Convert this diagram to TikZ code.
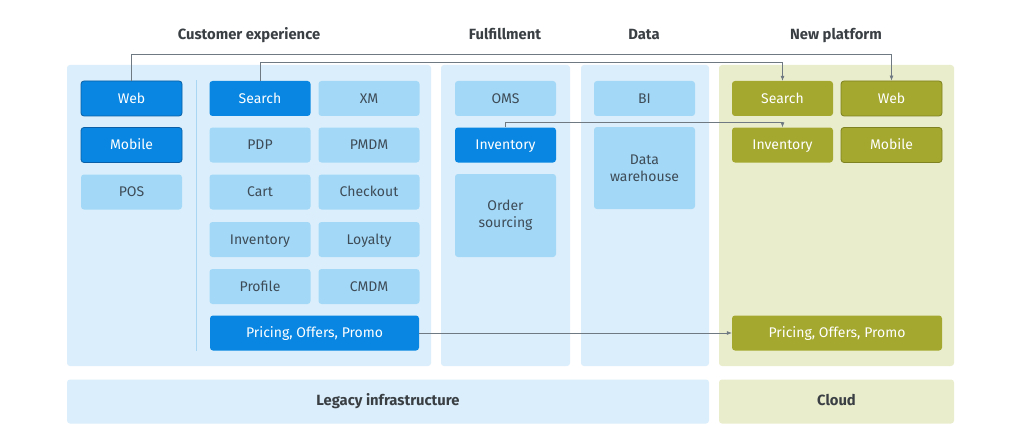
\documentclass[tikz,border=0pt]{standalone}
\usepackage{fontspec}
\setmainfont{Fira Sans}
\usetikzlibrary{arrows.meta}
\definecolor{panelblue}{HTML}{DAEEFB}
\definecolor{lightbox}{HTML}{A3D8F7}
\definecolor{darkbox}{HTML}{0886E2}
\definecolor{darkboxedge}{HTML}{0A5FA6}
\definecolor{panelgreen}{HTML}{EAEDCC}
\definecolor{olivebox}{HTML}{A4A82E}
\definecolor{oliveedge}{HTML}{7E8220}
\definecolor{txt}{HTML}{3E4C57}
\definecolor{titletxt}{HTML}{3A3F44}
\definecolor{conncol}{HTML}{6F7981}
\definecolor{divcol}{HTML}{A8D6F3}
\tikzset{
  panel/.style={fill=#1, draw=none, rounded corners=3},
  basebox/.style={rounded corners=3, minimum width=101, minimum height=35, inner sep=0, align=center,
                  text height=12.4, text depth=2.6,
                  font=\fontsize{14}{17}\selectfont},
  twoline/.style={text height=, text depth=},
  lbox/.style={basebox, fill=lightbox, text=txt},
  dbox/.style={basebox, fill=darkbox, text=white},
  dboxe/.style={dbox, draw=darkboxedge, line width=0.8},
  obox/.style={basebox, fill=olivebox, text=white},
  oboxe/.style={obox, draw=oliveedge, line width=0.8},
  title/.style={font=\fontsize{14.8}{17}\bfseries, text=titletxt, anchor=base, inner sep=0},
  bar/.style={panel=#1, minimum height=44, font=\fontsize{14.8}{17}\bfseries, text=titletxt,
              text height=10.5, text depth=3},
  conn/.style={draw=conncol, line width=0.6, -{Latex[length=5,width=4]}},
}
\begin{document}
\begin{tikzpicture}[x=1pt,y=-1pt]
\useasboundingbox (0,0) rectangle (1024,441);
\fill[white] (0,0) rectangle (1024,441);
% panels
\fill[panel=panelblue] (67,65) rectangle (431,366);
\fill[panel=panelblue] (441,65) rectangle (570,366);
\fill[panel=panelblue] (581,65) rectangle (709,366);
\fill[panel=panelgreen] (719,65) rectangle (954,366);
\node[bar=panelblue, minimum width=642] (legacy) at (388,401.5) {Legacy infrastructure};
\node[bar=panelgreen, minimum width=235] (cloud) at (836.5,401.5) {Cloud};
% titles
\node[title] (t1) at (249,40) {Customer experience};
\node[title] (t2) at (505,40) {Fulfillment};
\node[title] (t3) at (644,40) {Data};
\node[title] (t4) at (836,40) {New platform};
% divider
\draw[divcol, line width=1] (196,80) -- (196,351);
% customer experience
\node[dboxe] (cxweb) at (131.5,98.5) {Web};
\node[dboxe] (cxmobile) at (131.5,145) {Mobile};
\node[lbox] (pos) at (131.5,192) {POS};
\node[dbox] (cxsearch) at (260,98.5) {Search};
\node[lbox] (xm) at (369,98.5) {XM};
\node[lbox] (pdp) at (260,145) {PDP};
\node[lbox] (pmdm) at (369,145) {PMDM};
\node[lbox] (cart) at (260,192) {Cart};
\node[lbox] (checkout) at (369,192) {Checkout};
\node[lbox] (cxinv) at (260,239.5) {Inventory};
\node[lbox] (loyalty) at (369,239.5) {Loyalty};
\node[lbox] (profile) at (260,286.5) {Profile};
\node[lbox] (cmdm) at (369,286.5) {CMDM};
\node[dbox, minimum width=209] (cxprice) at (314.5,333) {Pricing, Offers, Promo};
% fulfillment
\node[lbox] (oms) at (505.5,98.5) {OMS};
\node[dbox] (finv) at (505.5,145) {Inventory};
\node[lbox, twoline, minimum height=83] (osrc) at (505.5,215.5) {Order\\sourcing};
% data
\node[lbox, twoline, minimum height=82] (dw) at (644.5,168) {Data\\warehouse};
\node[lbox] (bi) at (644.5,98.5) {BI};
% new platform
\node[obox] (npsearch) at (782.5,98.5) {Search};
\node[oboxe] (npweb) at (891.5,98.5) {Web};
\node[obox] (npinv) at (782.5,145) {Inventory};
\node[oboxe] (npmobile) at (891.5,145) {Mobile};
\node[obox, minimum width=210] (npprice) at (837,333) {Pricing, Offers, Promo};
% connectors
\coordinate (l1) at (0,54);
\coordinate (l2) at (0,62);
\coordinate (l3) at (0,122);
\draw[conn] (cxweb.north) -- (cxweb.north |- l1) -| (npweb.north);
\draw[conn] (cxsearch.north) -- (cxsearch.north |- l2) -| (npsearch.north);
\draw[conn] (finv.north) -- (finv.north |- l3) -| (npinv.north);
\draw[conn] (cxprice.east) -- (npprice.west);
\end{tikzpicture}
\end{document}
